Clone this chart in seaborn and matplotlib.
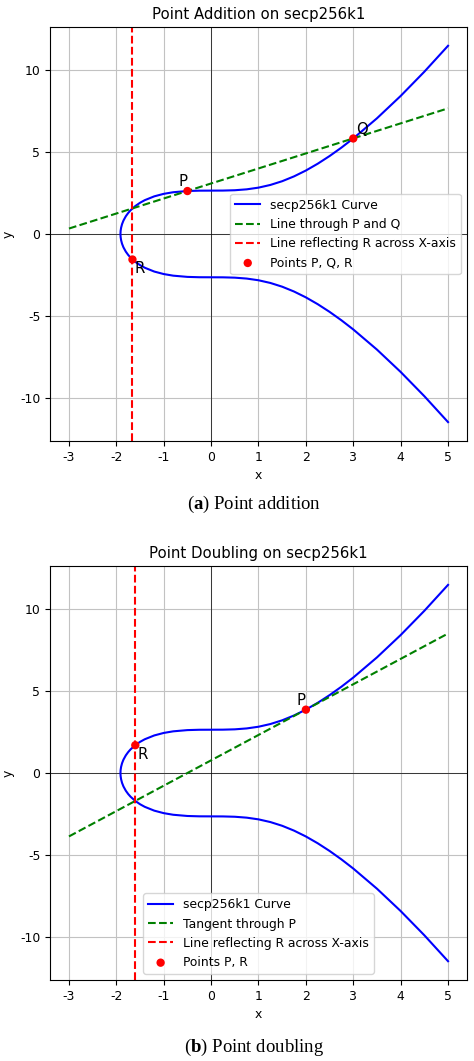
import numpy as np
import pandas as pd
import matplotlib
matplotlib.use("Agg")
import matplotlib.pyplot as plt
import seaborn as sns

plt.rcParams['axes.unicode_minus'] = False
plt.rcParams['mathtext.fontset'] = 'custom'
plt.rcParams['mathtext.rm'] = 'Liberation Serif'
plt.rcParams['mathtext.bf'] = 'Liberation Serif:bold'

# upper branch of y^2 = x^3 + 7
curve_x = [-1.913, -1.91, -1.9, -1.88, -1.85, -1.8, -1.75, -1.7, -1.6, -1.5, -1.4,
           -1.2, -1.0, -0.8, -0.5, -0.25, 0.0, 0.25, 0.5, 0.75, 1.0, 1.25, 1.5,
           1.75, 2.0, 2.25, 2.5, 2.75, 3.0, 3.5, 4.0, 4.5, 5.0]
curve_y = [0.0, 0.179, 0.375, 0.596, 0.818, 1.081, 1.281, 1.445, 1.704, 1.904, 2.063,
           2.296, 2.449, 2.547, 2.622, 2.643, 2.646, 2.649, 2.669, 2.724, 2.828, 2.992, 3.221,
           3.516, 3.873, 4.289, 4.757, 5.272, 5.831, 7.062, 8.426, 9.906, 11.489]

# point addition
add_line_x = [-3, 5]
add_line_y = [0.33, 7.67]
add_reflect_x = -1.66
add_pts_x = [-0.5, 3.0, -1.66]
add_pts_y = [2.62, 5.83, -1.56]
add_pts_lbl = ['P', 'Q', 'R']

# point doubling
dbl_line_x = [-3, 5]
dbl_line_y = [-3.87, 8.52]
dbl_reflect_x = -1.6
dbl_pts_x = [2.0, -1.6]
dbl_pts_y = [3.87, 1.70]
dbl_pts_lbl = ['P', 'R']

# closed curve: upper branch right->left, then lower branch left->right
cx = np.array(curve_x)
cy = np.array(curve_y)
curve = pd.DataFrame({'x': np.concatenate([cx[::-1], cx[1:]]),
                      'y': np.concatenate([cy[::-1], -cy[1:]])})

label_align = {'P': ('right', 'bottom'), 'Q': ('left', 'bottom'), 'R': ('left', 'top')}
fs = 8.9


def draw(ax, title, line_x, line_y, line_lbl, rx, px, py, plbl, pts_lbl, legend_loc):
    ax.axhline(0, color='black', linewidth=0.5)
    ax.axvline(0, color='black', linewidth=0.5)
    sns.lineplot(data=curve, x='x', y='y', sort=False, estimator=None, color='blue',
                 linewidth=1.5, label='secp256k1 Curve', ax=ax)
    sns.lineplot(x=line_x, y=line_y, color='green', linestyle='--', linewidth=1.5,
                 label=line_lbl, ax=ax)
    ax.axvline(rx, color='red', linestyle='--', linewidth=1.5,
               label='Line reflecting R across X-axis')
    sns.scatterplot(x=px, y=py, color='red', s=36, edgecolor='none', zorder=5,
                    label=pts_lbl, ax=ax)
    for x, y, t in zip(px, py, plbl):
        ha, va = label_align[t]
        ax.text(x + (0.05 if ha == 'left' else 0), y + (0.1 if va == 'bottom' else -0.1), t,
                ha=ha, va=va, fontsize=10.7)
    ax.set_xlim(-3.4, 5.4)
    ax.set_ylim(-12.64, 12.64)
    ax.set_xticks([-3, -2, -1, 0, 1, 2, 3, 4, 5])
    ax.set_yticks([-10, -5, 0, 5, 10])
    ax.tick_params(labelsize=fs)
    ax.grid(True, color='#c2c2c2', linewidth=0.8)
    ax.set_axisbelow(True)
    ax.set_title(title, fontsize=10.7)
    ax.set_xlabel('x', fontsize=fs)
    ax.set_ylabel('y', fontsize=fs)
    ax.legend(loc=legend_loc, fontsize=fs)


fig = plt.figure(figsize=(4.74, 10.61), dpi=100)
ax1 = fig.add_axes([0.1055, 0.5844, 0.8797, 0.3902])
ax2 = fig.add_axes([0.1055, 0.0763, 0.8797, 0.3902])

draw(ax1, 'Point Addition on secp256k1', add_line_x, add_line_y, 'Line through P and Q',
     add_reflect_x, add_pts_x, add_pts_y, add_pts_lbl, 'Points P, Q, R', 'center right')
draw(ax2, 'Point Doubling on secp256k1', dbl_line_x, dbl_line_y, 'Tangent through P',
     dbl_reflect_x, dbl_pts_x, dbl_pts_y, dbl_pts_lbl, 'Points P, R', 'lower center')

fig.text(0.536, 0.525, r'($\mathbf{a}$) Point addition', ha='center', va='center',
         fontsize=13.5, family='Liberation Serif')
fig.text(0.536, 0.0132, r'($\mathbf{b}$) Point doubling', ha='center', va='center',
         fontsize=13.5, family='Liberation Serif')

fig.savefig('out.png', dpi=100)
